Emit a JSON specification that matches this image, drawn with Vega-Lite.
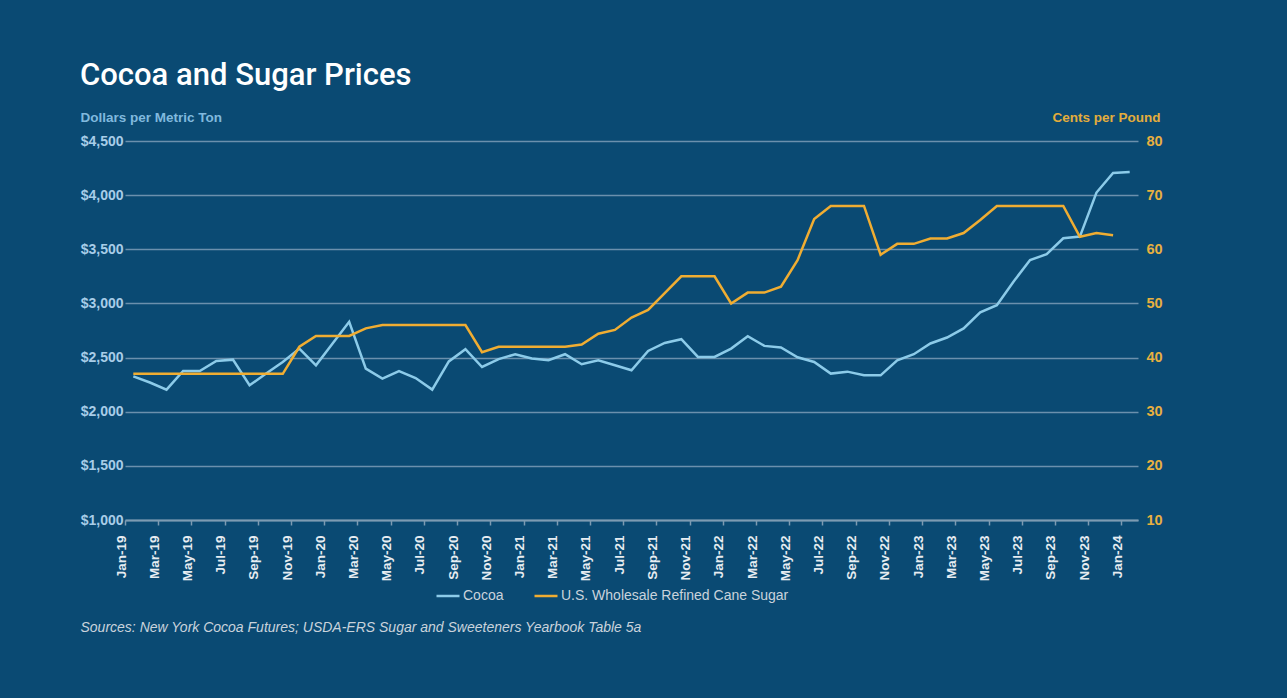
{
  "$schema": "https://vega.github.io/schema/vega-lite/v6.json",
  "width": 1013,
  "height": 379,
  "autosize": {"type": "none"},
  "padding": {"left": 125, "top": 141, "right": 149, "bottom": 178},
  "background": "#0a4a73",
  "title": {
    "text": "Cocoa and Sugar Prices",
    "anchor": "start",
    "frame": "group",
    "dx": -45,
    "offset": -6,
    "font": "Roboto",
    "fontSize": 31,
    "fontWeight": 500,
    "color": "#ffffff",
    "baseline": "alphabetic"
  },
  "data": {
    "values": [
      {"month": "Jan-19", "cocoa": 2327, "sugar": 37},
      {"month": "Feb-19", "cocoa": 2270, "sugar": 37},
      {"month": "Mar-19", "cocoa": 2204, "sugar": 37},
      {"month": "Apr-19", "cocoa": 2376, "sugar": 37},
      {"month": "May-19", "cocoa": 2376, "sugar": 37},
      {"month": "Jun-19", "cocoa": 2469, "sugar": 37},
      {"month": "Jul-19", "cocoa": 2481, "sugar": 37},
      {"month": "Aug-19", "cocoa": 2244, "sugar": 37},
      {"month": "Sep-19", "cocoa": 2352, "sugar": 37},
      {"month": "Oct-19", "cocoa": 2459, "sugar": 37},
      {"month": "Nov-19", "cocoa": 2583, "sugar": 42},
      {"month": "Dec-19", "cocoa": 2429, "sugar": 44},
      {"month": "Jan-20", "cocoa": 2630, "sugar": 44},
      {"month": "Feb-20", "cocoa": 2830, "sugar": 44},
      {"month": "Mar-20", "cocoa": 2398, "sugar": 45.4},
      {"month": "Apr-20", "cocoa": 2306, "sugar": 46},
      {"month": "May-20", "cocoa": 2376, "sugar": 46},
      {"month": "Jun-20", "cocoa": 2311, "sugar": 46},
      {"month": "Jul-20", "cocoa": 2204, "sugar": 46},
      {"month": "Aug-20", "cocoa": 2464, "sugar": 46},
      {"month": "Sep-20", "cocoa": 2578, "sugar": 46},
      {"month": "Oct-20", "cocoa": 2413, "sugar": 41},
      {"month": "Nov-20", "cocoa": 2486, "sugar": 42},
      {"month": "Dec-20", "cocoa": 2531, "sugar": 42},
      {"month": "Jan-21", "cocoa": 2491, "sugar": 42},
      {"month": "Feb-21", "cocoa": 2475, "sugar": 42},
      {"month": "Mar-21", "cocoa": 2531, "sugar": 42},
      {"month": "Apr-21", "cocoa": 2438, "sugar": 42.4},
      {"month": "May-21", "cocoa": 2475, "sugar": 44.4},
      {"month": "Jun-21", "cocoa": 2429, "sugar": 45.1},
      {"month": "Jul-21", "cocoa": 2383, "sugar": 47.4},
      {"month": "Aug-21", "cocoa": 2561, "sugar": 48.8},
      {"month": "Sep-21", "cocoa": 2635, "sugar": 51.9},
      {"month": "Oct-21", "cocoa": 2670, "sugar": 55},
      {"month": "Nov-21", "cocoa": 2506, "sugar": 55},
      {"month": "Dec-21", "cocoa": 2506, "sugar": 55},
      {"month": "Jan-22", "cocoa": 2583, "sugar": 50},
      {"month": "Feb-22", "cocoa": 2697, "sugar": 52},
      {"month": "Mar-22", "cocoa": 2608, "sugar": 52},
      {"month": "Apr-22", "cocoa": 2593, "sugar": 53.1},
      {"month": "May-22", "cocoa": 2503, "sugar": 58},
      {"month": "Jun-22", "cocoa": 2459, "sugar": 65.6},
      {"month": "Jul-22", "cocoa": 2352, "sugar": 68},
      {"month": "Aug-22", "cocoa": 2370, "sugar": 68},
      {"month": "Sep-22", "cocoa": 2336, "sugar": 68},
      {"month": "Oct-22", "cocoa": 2336, "sugar": 59},
      {"month": "Nov-22", "cocoa": 2475, "sugar": 61},
      {"month": "Dec-22", "cocoa": 2531, "sugar": 61},
      {"month": "Jan-23", "cocoa": 2630, "sugar": 62},
      {"month": "Feb-23", "cocoa": 2685, "sugar": 62},
      {"month": "Mar-23", "cocoa": 2769, "sugar": 63},
      {"month": "Apr-23", "cocoa": 2917, "sugar": 65.4},
      {"month": "May-23", "cocoa": 2984, "sugar": 68},
      {"month": "Jun-23", "cocoa": 3200, "sugar": 68},
      {"month": "Jul-23", "cocoa": 3401, "sugar": 68},
      {"month": "Aug-23", "cocoa": 3454, "sugar": 68},
      {"month": "Sep-23", "cocoa": 3602, "sugar": 68},
      {"month": "Oct-23", "cocoa": 3617, "sugar": 62.3},
      {"month": "Nov-23", "cocoa": 4024, "sugar": 63},
      {"month": "Dec-23", "cocoa": 4204, "sugar": 62.6},
      {"month": "Jan-24", "cocoa": 4213, "sugar": null}
    ]
  },
  "encoding": {
    "x": {
      "field": "month",
      "type": "ordinal",
      "sort": null,
      "bandPosition": 0.5,
      "scale": {
        "type": "band",
        "paddingInner": 0,
        "paddingOuter": 0,
        "domain": ["Jan-19","Feb-19","Mar-19","Apr-19","May-19","Jun-19","Jul-19","Aug-19","Sep-19","Oct-19","Nov-19","Dec-19","Jan-20","Feb-20","Mar-20","Apr-20","May-20","Jun-20","Jul-20","Aug-20","Sep-20","Oct-20","Nov-20","Dec-20","Jan-21","Feb-21","Mar-21","Apr-21","May-21","Jun-21","Jul-21","Aug-21","Sep-21","Oct-21","Nov-21","Dec-21","Jan-22","Feb-22","Mar-22","Apr-22","May-22","Jun-22","Jul-22","Aug-22","Sep-22","Oct-22","Nov-22","Dec-22","Jan-23","Feb-23","Mar-23","Apr-23","May-23","Jun-23","Jul-23","Aug-23","Sep-23","Oct-23","Nov-23","Dec-23","Jan-24"]
      },
      "axis": {
        "bandPosition": 0.5,
        "tickOffset": -8.3,
        "labelExpr": "indexof(['Jan','Mar','May','Jul','Sep','Nov'], slice(datum.value, 0, 3)) >= 0 ? datum.value : ''",
        "tickOpacity": {
          "condition": {"test": "indexof(['Jan','Mar','May','Jul','Sep','Nov'], slice(datum.value, 0, 3)) >= 0", "value": 1},
          "value": 0
        },
        "labelAngle": -90,
        "labelAlign": "right",
        "labelBaseline": "middle",
        "labelOffset": -4,
        "labelPadding": 10,
        "labelBound": false,
        "labelFlush": false,
        "labelFont": "Liberation Sans",
        "labelFontSize": 13.5,
        "labelFontWeight": "bold",
        "labelColor": "#e6ecf1",
        "labelOverlap": false,
        "tickSize": 5,
        "tickColor": "#7d9bb2",
        "tickWidth": 1.5,
        "domainColor": "#7d9bb2",
        "domainWidth": 2,
        "grid": false,
        "title": "Sources: New York Cocoa Futures; USDA-ERS Sugar and Sweeteners Yearbook Table 5a",
        "titleX": -45,
        "titleY": 111,
        "titleAlign": "left",
        "titleAnchor": "start",
        "titleBaseline": "alphabetic",
        "titleFont": "Liberation Sans",
        "titleFontSize": 14,
        "titleFontStyle": "italic",
        "titleFontWeight": "normal",
        "titleColor": "#c9d3dc"
      }
    }
  },
  "layer": [
    {
      "mark": {"type": "line", "strokeWidth": 2.5},
      "encoding": {
        "y": {
          "field": "cocoa",
          "type": "quantitative",
          "scale": {"domain": [1000, 4500], "nice": false, "zero": false},
          "axis": {
            "orient": "left",
            "values": [1000, 1500, 2000, 2500, 3000, 3500, 4000, 4500],
            "format": "$,.0f",
            "grid": true,
            "gridColor": "#6b90ad",
            "gridWidth": 1.3,
            "domain": false,
            "ticks": false,
            "labelFlush": false,
            "labelPadding": 2,
            "labelFont": "Liberation Sans",
            "labelFontSize": 14,
            "labelFontWeight": "bold",
            "labelColor": "#a8cde8",
            "title": "Dollars per Metric Ton",
            "titleAngle": 0,
            "titleX": -45,
            "titleY": -20,
            "titleAlign": "left",
            "titleBaseline": "alphabetic",
            "titleFont": "Liberation Sans",
            "titleFontSize": 13.5,
            "titleFontWeight": "bold",
            "titleColor": "#80b9de"
          }
        },
        "color": {
          "datum": "Cocoa",
          "type": "nominal",
          "scale": {
            "domain": ["Cocoa", "U.S. Wholesale Refined Cane Sugar"],
            "range": ["#8ccbe9", "#f0ad32"]
          },
          "legend": {
            "orient": "none",
            "legendX": 310,
            "legendY": 442,
            "direction": "horizontal",
            "title": null,
            "symbolType": "stroke",
            "symbolSize": 529,
            "symbolStrokeWidth": 2.5,
            "labelFont": "Liberation Sans",
            "labelFontSize": 14,
            "labelColor": "#c9d3dc",
            "labelLimit": 0,
            "labelOffset": 2,
            "columnPadding": 25
          }
        }
      }
    },
    {
      "mark": {"type": "line", "strokeWidth": 2.5},
      "encoding": {
        "y": {
          "field": "sugar",
          "type": "quantitative",
          "scale": {"domain": [10, 80], "nice": false, "zero": false},
          "axis": {
            "orient": "right",
            "values": [10, 20, 30, 40, 50, 60, 70, 80],
            "grid": false,
            "domain": false,
            "ticks": false,
            "labelFlush": false,
            "labelPadding": 8,
            "labelFont": "Liberation Sans",
            "labelFontSize": 14.5,
            "labelFontWeight": "bold",
            "labelColor": "#e8b040",
            "title": "Cents per Pound",
            "titleAngle": 0,
            "titleX": 22,
            "titleY": -20,
            "titleAlign": "right",
            "titleBaseline": "alphabetic",
            "titleFont": "Liberation Sans",
            "titleFontSize": 13.5,
            "titleFontWeight": "bold",
            "titleColor": "#e3ad3c"
          }
        },
        "color": {"datum": "U.S. Wholesale Refined Cane Sugar", "type": "nominal"}
      }
    }
  ],
  "resolve": {"scale": {"y": "independent"}},
  "config": {"view": {"stroke": null}}
}
